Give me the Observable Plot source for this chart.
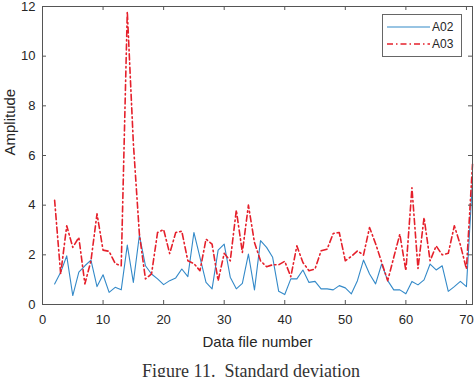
<!DOCTYPE html>
<html><head><meta charset="utf-8">
<script src="https://cdn.jsdelivr.net/npm/d3@7"></script>
<script src="https://cdn.jsdelivr.net/npm/@observablehq/plot@0.6"></script>
<style>
html,body{margin:0;padding:0;background:#fff;}
body{width:474px;height:377px;overflow:hidden;position:relative;font-family:"Liberation Sans",Arial,sans-serif;}
#legend{position:absolute;left:382px;top:14px;width:78px;height:41px;border:1px solid #666;background:#fff;}
#caption{position:absolute;left:0;top:362px;width:502px;text-align:center;white-space:nowrap;font-family:"Liberation Serif","Times New Roman",serif;font-size:18px;line-height:1;color:#333;}
</style></head><body>
<div id="chart"></div>
<div id="legend"></div>
<div id="caption">Figure 11.&nbsp; Standard deviation</div>
<script>
const fileNumbers = [2,3,4,5,6,7,8,9,10,11,12,13,14,15,16,17,18,19,20,21,22,23,24,25,26,27,28,29,30,31,32,33,34,35,36,37,38,39,40,41,42,43,44,45,46,47,48,49,50,51,52,53,54,55,56,57,58,59,60,61,62,63,64,65,66,67,68,69,70,71];
const a02 = [0.83,1.30,1.96,0.36,1.30,1.56,1.79,0.72,1.20,0.49,0.69,0.59,2.39,0.89,2.79,1.56,1.23,1.03,0.80,0.96,1.07,1.43,1.12,2.90,1.90,0.89,0.63,2.19,2.43,1.10,0.63,0.85,2.03,0.59,2.57,2.30,1.90,0.53,0.40,1.03,1.03,1.39,0.89,0.93,0.63,0.63,0.59,0.76,0.67,0.43,0.96,1.79,1.23,0.83,1.63,0.96,0.59,0.59,0.43,0.93,0.79,0.99,1.63,1.39,1.56,0.53,0.72,0.93,0.72,5.0];
const a03 = [4.2,1.23,3.17,2.30,2.70,0.83,1.76,3.65,2.19,2.14,1.65,1.56,11.8,6.5,2.83,1.03,1.23,2.90,3.02,2.05,2.90,2.95,1.76,1.65,1.36,2.63,2.43,0.96,2.06,1.76,3.8,2.1,4.0,2.5,1.76,1.52,1.6,1.6,1.74,1.12,2.36,1.69,1.36,1.43,2.16,2.23,2.86,2.9,1.76,1.94,2.16,1.99,3.1,2.45,1.7,0.96,1.9,2.83,1.36,4.7,1.45,3.5,1.76,2.36,2.0,2.06,3.17,2.4,1.43,5.65];
const xTicks = [0,10,20,30,40,50,60,70];
const yTicks = [0,2,4,6,8,10,12];
const seriesNames = ["A02","A03"];
const seriesColors = ["#3389c8","#e5202b"];
const xLabel = "Data file number";
const yLabel = "Amplitude";

const rows02 = fileNumbers.map((f,i)=>({file:f, value:a02[i]}));
const rows03 = fileNumbers.map((f,i)=>({file:f, value:a03[i]}));

const W = 474, H = 360, mL = 42, mR = 2, mT = 6, mB = 56;
const fw = W - mL - mR, fh = H - mT - mB, tk = 4;
const dash = "6,3,1.5,3";

const chart = Plot.plot({
  width: W, height: H,
  marginLeft: mL, marginRight: mR, marginTop: mT, marginBottom: mB,
  style: {fontFamily: "'Liberation Sans', Arial, sans-serif", color: "#262626", background: "#fff"},
  x: {domain: [0, 71]},
  y: {domain: [0, 12]},
  marks: [
    Plot.line(rows02, {x: "file", y: "value", stroke: seriesColors[0], strokeWidth: 1.1}),
    Plot.line(rows03, {x: "file", y: "value", stroke: seriesColors[1], strokeWidth: 1.6, strokeDasharray: dash}),
    Plot.frame({stroke: "#555", strokeWidth: 1}),
    Plot.tickX(xTicks, {x: d => d, insetTop: fh - tk, stroke: "#555"}),
    Plot.tickX(xTicks, {x: d => d, insetBottom: fh - tk, stroke: "#555"}),
    Plot.tickY(yTicks, {y: d => d, insetRight: fw - tk, stroke: "#555"}),
    Plot.tickY(yTicks, {y: d => d, insetLeft: fw - tk, stroke: "#555"}),
    Plot.axisX({ticks: xTicks, tickSize: 0, tickPadding: 10, fontSize: 13, label: null}),
    Plot.axisY({ticks: yTicks, tickSize: 0, tickPadding: 7, fontSize: 13, label: null}),
    Plot.text([xLabel], {text: d => d, frameAnchor: "bottom", dy: 38, lineAnchor: "middle", fontSize: 15, fill: "#262626"}),
    Plot.text([yLabel], {text: d => d, frameAnchor: "left", dx: -32, rotate: -90, lineAnchor: "middle", fontSize: 15, fill: "#262626"})
  ]
});
document.getElementById("chart").appendChild(chart);

// legend
const lg = d3.select("#legend").append("svg").attr("width", 78).attr("height", 41);
seriesNames.forEach((name, i) => {
  const y = 12 + i * 17;
  lg.append("line").attr("x1", 4).attr("x2", 47).attr("y1", y).attr("y2", y)
    .attr("stroke", seriesColors[i]).attr("stroke-width", i ? 1.6 : 1.1)
    .attr("stroke-dasharray", i ? dash : null);
  lg.append("text").attr("x", 49).attr("y", y).attr("dy", "0.36em")
    .attr("font-size", 12).attr("fill", "#262626")
    .attr("font-family", "'Liberation Sans', Arial, sans-serif").text(name);
});
</script>
</body></html>
